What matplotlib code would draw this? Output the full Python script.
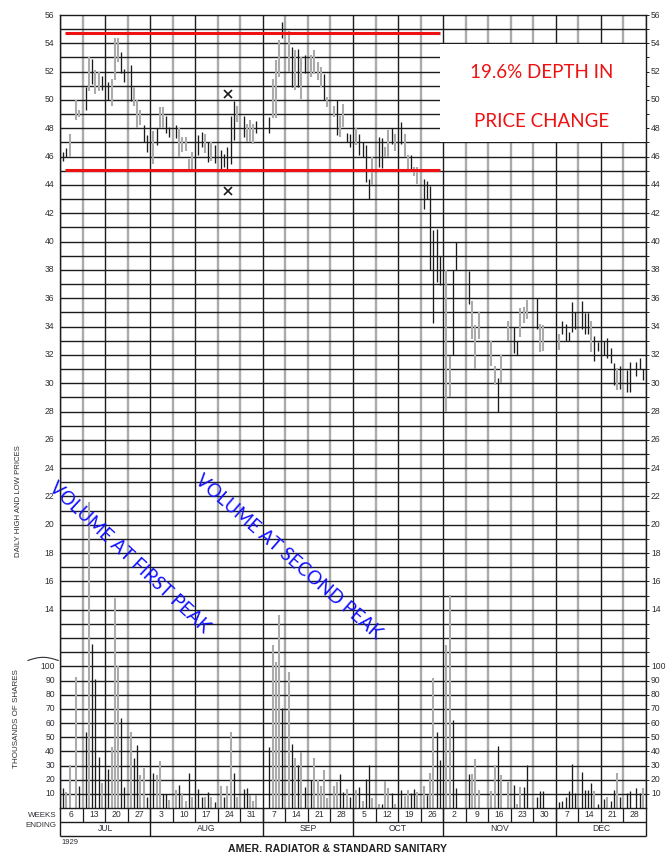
import datetime as dt
import numpy as np
import matplotlib.pyplot as plt
from matplotlib.patches import Rectangle

plt.rcParams['font.family'] = ['Liberation Sans', 'DejaVu Sans']

# daily high / low prices, 1929
days = ['07-01', '07-02', '07-03', '07-05', '07-06',
        '07-08', '07-09', '07-10', '07-11', '07-12', '07-13',
        '07-15', '07-16', '07-17', '07-18', '07-19', '07-20',
        '07-22', '07-23', '07-24', '07-25', '07-26', '07-27',
        '07-29', '07-30', '07-31', '08-01', '08-02', '08-03',
        '08-05', '08-06', '08-07', '08-08', '08-09', '08-10',
        '08-12', '08-13', '08-14', '08-15', '08-16', '08-17',
        '08-19', '08-20', '08-21', '08-22', '08-23', '08-24',
        '08-26', '08-27', '08-28', '08-29', '08-30',
        '09-03', '09-04', '09-05', '09-06', '09-07',
        '09-09', '09-10', '09-11', '09-12', '09-13', '09-14',
        '09-16', '09-17', '09-18', '09-19', '09-20', '09-21',
        '09-23', '09-24', '09-25', '09-26', '09-27', '09-28',
        '09-30', '10-01', '10-02', '10-03', '10-04', '10-05',
        '10-07', '10-08', '10-09', '10-10', '10-11', '10-12',
        '10-14', '10-15', '10-16', '10-17', '10-18', '10-19',
        '10-21', '10-22', '10-23', '10-24', '10-25', '10-26',
        '10-28', '10-29', '10-30', '10-31',
        '11-04', '11-05', '11-06', '11-07',
        '11-11', '11-12', '11-13', '11-14', '11-16',
        '11-18', '11-19', '11-20', '11-21', '11-22',
        '11-25', '11-26', '11-27',
        '12-02', '12-03', '12-04', '12-05', '12-06', '12-07',
        '12-09', '12-10', '12-11', '12-12', '12-13', '12-14',
        '12-16', '12-17', '12-18', '12-19', '12-20', '12-21',
        '12-23', '12-24', '12-26', '12-27', '12-28']

high = [46.3, 46.6, 47.6, 50.0, 49.3,
        50.9, 53.05, 52.9, 52.1, 52.0, 51.7,
        51.3, 51.5, 54.4, 54.4, 53.4, 52.2,
        52.5, 50.9, 50.0, 49.3, 48.2, 47.5,
        47.8, 48.0, 49.5, 49.5, 48.9, 48.1,
        48.2, 48.0, 47.4, 47.4, 45.8, 46.3,
        47.55, 47.75, 47.6, 47.0, 47.0, 46.8,
        46.45, 46.2, 46.7, 48.9, 49.9, 49.6,
        48.9, 48.3, 48.6, 48.3, 48.5,
        48.8, 51.5, 52.8, 54.2, 55.5,
        54.9, 53.75, 53.5, 53.6, 53.05, 53.2,
        53.2, 53.5, 52.7, 52.3, 51.8, 50.2,
        49.6, 50.0, 48.9, 49.7, 47.7, 47.6,
        48.0, 47.6, 47.0, 46.8, 44.4, 46.0,
        47.4, 47.3, 46.7, 47.9, 48.0, 47.6,
        48.45, 47.6, 46.1, 46.1, 45.3, 45.3,
        44.4, 44.3, 43.9, 40.8, 40.9, 39.0,
        38.0, 31.95, 38.0, 40.0,
        37.9, 35.8, 34.1, 35.0,
        33.0, 31.2, 30.4, 32.0, 34.4,
        34.0, 33.0, 35.3, 35.4, 35.9,
        36.0, 34.2, 34.1,
        33.5, 34.4, 34.15, 33.6, 35.7, 35.0,
        35.8, 34.95, 34.95, 34.4, 33.3, 32.9,
        33.0, 33.2, 32.5, 31.4, 31.1, 31.2,
        30.95, 31.5, 31.5, 31.8, 31.0]

low = [45.7, 46.0, 46.0, 48.6, 48.8,
       49.3, 50.6, 51.1, 50.4, 50.6, 50.7,
       50.0, 49.6, 51.4, 52.7, 51.9, 51.3,
       49.9, 49.6, 48.0, 48.2, 47.0, 46.3,
       45.5, 46.8, 48.0, 48.0, 47.7, 47.4,
       47.3, 46.0, 46.3, 46.4, 45.15, 45.15,
       46.1, 46.7, 46.25, 45.6, 45.7, 45.55,
       45.15, 45.3, 45.15, 45.5, 47.2, 48.45,
       47.4, 47.0, 47.0, 46.9, 47.7,
       47.7, 48.7, 48.7, 51.6, 54.4,
       52.0, 50.9, 50.7, 50.9, 50.1, 51.9,
       51.6, 51.8, 51.4, 50.9, 50.0, 49.5,
       48.8, 47.5, 47.4, 48.1, 47.0, 46.7,
       46.8, 46.1, 46.0, 44.2, 43.0, 44.0,
       45.3, 45.2, 46.0, 46.0, 46.9, 46.4,
       46.9, 46.0, 45.1, 45.1, 44.6, 44.1,
       42.3, 43.0, 38.0, 34.25, 37.15, 36.9,
       28.0, 29.0, 32.0, 38.0,
       35.6, 33.1, 31.0, 33.1,
       31.2, 29.9, 28.0, 30.0, 33.0,
       32.1, 32.0, 33.25, 34.25, 34.55,
       33.8, 32.2, 32.3,
       32.35, 33.5, 32.97, 32.97, 33.6, 33.8,
       33.8, 33.5, 33.5, 32.2, 31.6, 32.3,
       32.0, 31.8, 31.4, 29.9, 29.5, 29.6,
       29.35, 29.4, 30.5, 31.0, 30.2]

# k = black bar, g = grey bar
price_tone = ('kkggg' 'kgkggk' 'kgggkk' 'kgggkk' 'gkggkk' 'kggggg'
              'kkgkgk' 'kkkkkg' 'kgggk' 'kgggk' 'gkgkgk' 'ggggkg'
              'gkggkk' 'gkkkkg' 'kkggkg' 'kggkgg' 'kkkkkk' 'ggkk'
              'kggg' 'ggkgg' 'kkggg' 'kgg' 'gkkkkk' 'kkkgkk'
              'kkkkgk' 'kkkkk')

# thousands of shares
volume = [13.9, 11.5, 30.2, 92.4, 15.5,
          53.7, 216, 115.5, 91.2, 35.8, 17.9,
          27.3, 42.9, 148.5, 100, 63.6, 15.1,
          53.7, 35.1, 44.3, 23.3, 28.5, 8,
          25, 23.3, 33, 9.9, 9.9, 5.7,
          12.7, 16, 10.4, 4.7, 25, 8,
          13.4, 8, 8, 11.5, 8, 4,
          15.8, 8, 15.8, 53.7, 25, 8,
          13.4, 14.4, 9.4, 4.9, 9,
          42.9, 115, 103, 136, 70.5,
          96, 45.2, 35.3, 30.2, 39.8, 15.1,
          19.8, 35.1, 19.8, 15.8, 26.9, 7.1,
          15.8, 18.6, 24, 11.3, 13.7, 8,
          12.7, 15.1, 5.2, 20.3, 30.2, 7.1,
          2.8, 2.6, 18.9, 14.4, 10.4, 3,
          12.7, 8.5, 12.7, 10.4, 13.2, 11.3,
          15.8, 9.4, 25, 91.9, 53.7, 33.9,
          115, 150.7, 62.2, 14.4,
          24, 24, 34.9, 12.7,
          12.3, 30.2, 43.8, 23.1, 18.4,
          16, 2.8, 15.1, 15.1, 30.2,
          8, 12.3, 12.3,
          4.2, 5.2, 8, 12.3, 31.1, 10.4,
          25.4, 12.7, 12.7, 17.4, 12.3, 2.8,
          6.6, 7.5, 5.2, 12.7, 25, 8,
          10.4, 12.3, 14.1, 10.4, 14.1]

volume_tone = ('kgggk' 'kgkkkg' 'kgggkk' 'gkkggk' 'kggkkg' 'gkggkg'
               'kkgkgk' 'gkggkg' 'kkggg' 'kgggk' 'gkgkgk' 'kggggg'
               'ggkkgk' 'gkgkkg' 'gkggkg' 'kggkkg' 'gkggkk' 'ggkk'
               'kggg' 'ggkgg' 'kggkk' 'kkk' 'kkkkkk' 'kkkkgk'
               'kgkkgk' 'kkkkg')

week_ending = [6, 13, 20, 27, 3, 10, 17, 24, 31, 7, 14, 21, 28,
               5, 12, 19, 26, 2, 9, 16, 23, 30, 7, 14, 21, 28]
months = ['JUL', 'AUG', 'SEP', 'OCT', 'NOV', 'DEC']
weeks_in_month = [4, 5, 4, 4, 5, 4]
week_line_tone = 'kgkgkgkggkgggkgkgkggggkgkgk'

price_labels = list(range(14, 57, 2))
volume_labels = list(range(10, 101, 10))

first_peak_level = 54.7
support_level = 45.05
x_marks = [7.45, 7.45]
y_marks = [50.4, 43.55]

BLACK = '#1c1c1c'
GREY = '#ababab'
LABEL = '#2e2e36'

# x position of each trading day: week column + weekday slot
start = dt.date(1929, 7, 1)
xpos = []
for d in days:
    m, dd = d.split('-')
    delta = (dt.date(1929, int(m), int(dd)) - start).days
    xpos.append(delta // 7 + (delta % 7 + 1) / 7)
xpos = np.array(xpos)
high = np.array(high)
low = np.array(low)
volume = np.array(volume)
ptone = np.array(list(price_tone))
vtone = np.array(list(volume_tone))

fig = plt.figure(figsize=(6.69, 8.60), dpi=100)
ax = fig.add_axes([60 / 669, 52 / 860, 586 / 669, 793 / 860])
ax.set_xlim(0, 26)
ax.set_ylim(0, 56)

# grid
for i, t in enumerate(week_line_tone):
    if t == 'g':
        ax.vlines(i, 0, 56, color=GREY, lw=1.7, zorder=1)
ax.hlines(np.arange(1, 56), 0, 26, color=BLACK, lw=1.0, zorder=1.5)
for i, t in enumerate(week_line_tone):
    if t == 'k':
        ax.vlines(i, 0, 56, color=BLACK, lw=1.0, zorder=1.6)

# price bars
for t, c, w in [('g', GREY, 1.5), ('k', BLACK, 0.95)]:
    m = ptone == t
    ax.vlines(xpos[m], low[m], high[m], color=c, lw=w, zorder=3)
# volume bars (10 thousand shares per grid row)
for t, c, w in [('g', GREY, 1.5), ('k', BLACK, 0.95)]:
    m = vtone == t
    ax.vlines(xpos[m], 0, volume[m] / 10, color=c, lw=w, zorder=3)

# annotation box, lines and text
ax.add_patch(Rectangle((16.86, 47.04), 9.14, 6.92, facecolor='white',
                       edgecolor='none', zorder=4))
ax.hlines([first_peak_level, support_level], 0.22, 16.86, color='#ee1111',
          lw=2.2, zorder=5)
ax.text(21.38, 51.95, '19.6% DEPTH IN', color='#ee1111', fontsize=13.5,
        family='Lato', ha='center', va='center', zorder=6)
ax.text(21.38, 48.5, 'PRICE CHANGE', color='#ee1111', fontsize=13.5,
        family='Lato', ha='center', va='center', zorder=6)
ax.plot(x_marks, y_marks, 'x', color=BLACK, ms=5.5, mew=1.2, zorder=5)

ax.text(3.06, 17.7, 'VOLUME AT FIRST PEAK', color='#1010ff', fontsize=13.4,
        family='Lato', rotation=-43, rotation_mode='anchor',
        ha='center', va='center', zorder=6)
ax.text(10.12, 17.75, 'VOLUME AT SECOND PEAK', color='#1010ff', fontsize=13.4,
        family='Lato', rotation=-41, rotation_mode='anchor',
        ha='center', va='center', zorder=6)

# axes frame and ticks
for s in ax.spines.values():
    s.set_color(BLACK)
    s.set_linewidth(1.0)
    s.set_zorder(7)
ax.set_xticks([])
ax.set_yticks(np.arange(1, 57))
ax.tick_params(axis='y', left=False, right=True, labelleft=False,
               labelright=False, length=2.5, width=0.7, color=BLACK)

for p in price_labels:
    ax.text(-0.25, p, str(p), ha='right', va='center', fontsize=6.2, color=LABEL)
    ax.text(26.22, p, str(p), ha='left', va='center', fontsize=6.2, color=LABEL)
for v in volume_labels:
    ax.text(-0.22, v / 10, str(v), ha='right', va='center', fontsize=6.2, color=LABEL)
    ax.text(26.22, v / 10, str(v), ha='left', va='center', fontsize=6.2, color=LABEL)

ax.text(-1.86, 21.65, 'DAILY HIGH AND LOW PRICES', rotation=90, ha='center',
        va='center', fontsize=5.6, color=LABEL)
ax.text(-1.91, 6.32, 'THOUSANDS OF SHARES', rotation=90, ha='center',
        va='center', fontsize=5.8, color=LABEL)
tx = np.linspace(-1.42, -0.08, 40)
ax.plot(tx, 10.42 + 0.22 * np.sin(np.linspace(0, np.pi, 40)), color=LABEL,
        lw=0.8, clip_on=False)

# week / month table under the chart
ax.hlines([-0.97, -1.95], 0, 26, color=BLACK, lw=1.0, clip_on=False)
ax.vlines(np.arange(1, 26), -0.97, 0, color=BLACK, lw=0.9, clip_on=False)
bounds = np.concatenate([[0], np.cumsum(weeks_in_month)])
ax.vlines(bounds, -1.95, 0, color=BLACK, lw=1.0, clip_on=False)
for i, w in enumerate(week_ending):
    ax.text(i + 0.5, -0.49, str(w), ha='center', va='center', fontsize=6.2,
            color=LABEL)
for k, mname in enumerate(months):
    ax.text((bounds[k] + bounds[k + 1]) / 2, -1.46, mname, ha='center',
            va='center', fontsize=6.2, color=LABEL)
ax.text(-0.15, -0.5, 'WEEKS', ha='right', va='center', fontsize=5.8, color=LABEL)
ax.text(-0.15, -1.27, 'ENDING', ha='right', va='center', fontsize=5.8, color=LABEL)
ax.text(0.08, -2.45, '1929', ha='left', va='center', fontsize=5.5, color=LABEL)
ax.text(12.31, -2.87, 'AMER. RADIATOR & STANDARD SANITARY', ha='center',
        va='center', fontsize=7.6, fontweight='bold', color='#222222')

fig.savefig('out.png', dpi=100)
